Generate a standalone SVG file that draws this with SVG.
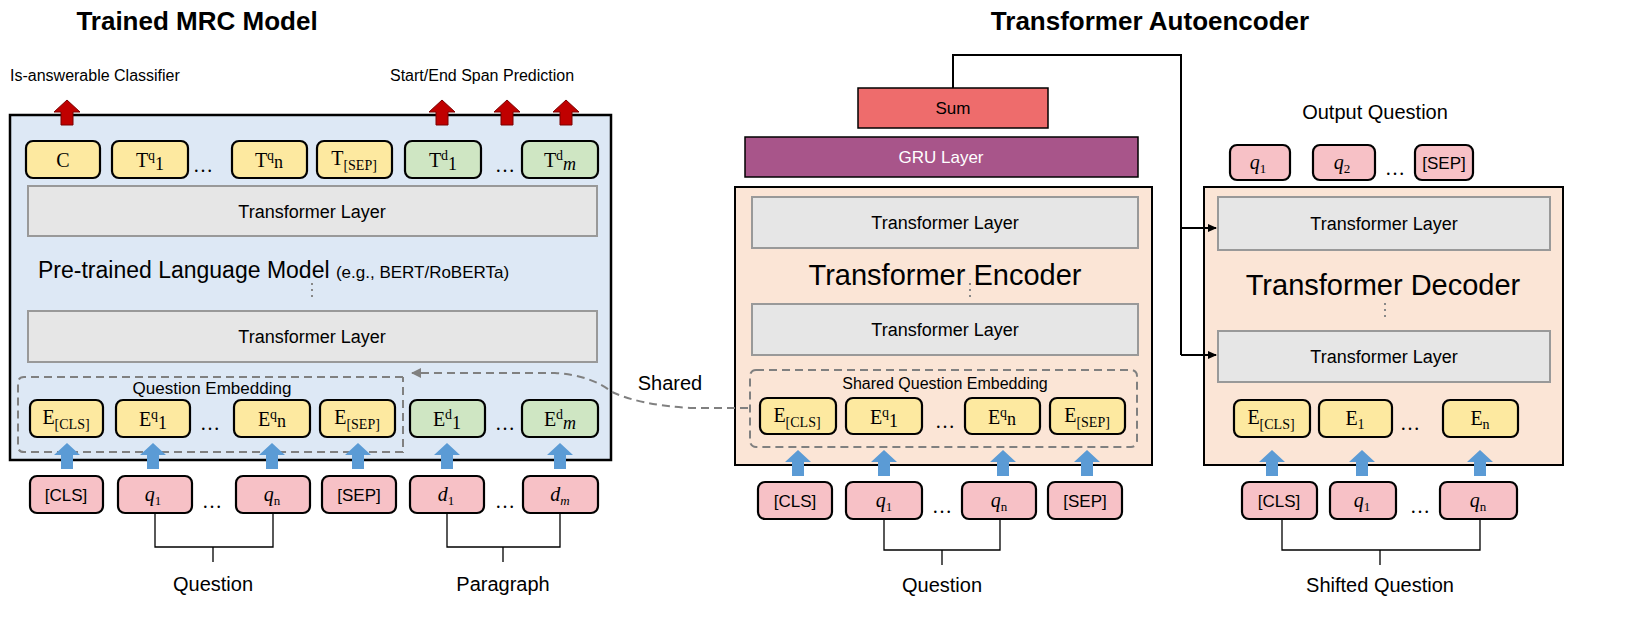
<svg xmlns="http://www.w3.org/2000/svg" width="1626" height="631" viewBox="0 0 1626 631">
<defs>
<style>
.t{font-family:"Liberation Sans",Arial,sans-serif;fill:#000}
.s{font-family:"Liberation Serif","DejaVu Serif",serif;font-size:20px;fill:#000}
.i{font-style:italic}
.y{fill:#fde9a0;stroke:#000;stroke-width:2.2}
.g{fill:#cfe6c3;stroke:#000;stroke-width:2.2}
.p{fill:#f7c1c6;stroke:#000;stroke-width:2.2}
.tl{fill:#e6e6e6;stroke:#999;stroke-width:2}
.br{fill:none;stroke:#000;stroke-width:1.3}
.ds{fill:none;stroke:#808080;stroke-width:2;stroke-dasharray:8 5}
.ba{fill:#5b9bd5}
.ra{fill:#c00000;stroke:#7a0000;stroke-width:1}
</style>
<marker id="ah" markerWidth="10" markerHeight="10" refX="8" refY="5" orient="auto" markerUnits="userSpaceOnUse"><path d="M0,1 L9,5 L0,9 z" fill="#000"/></marker>
<marker id="ag" markerWidth="12" markerHeight="12" refX="9" refY="6" orient="auto" markerUnits="userSpaceOnUse"><path d="M0,1 L10,6 L0,11 z" fill="#808080"/></marker>
<symbol id="up" viewBox="0 0 26 26" overflow="visible"><path d="M13,0 L26,12 L19,12 L19,26 L7,26 L7,12 L0,12 z"/></symbol>
</defs>

<text class="t" x="197" y="30" font-size="26" font-weight="bold" text-anchor="middle">Trained MRC Model</text>
<text class="t" x="1150" y="30" font-size="26" font-weight="bold" text-anchor="middle">Transformer Autoencoder</text>
<text class="t" x="10" y="81" font-size="16">Is-answerable Classifier</text>
<text class="t" x="390" y="81" font-size="16">Start/End Span Prediction</text>

<g id="mrc">
<rect x="10" y="115" width="601" height="345" fill="#dde8f5" stroke="#000" stroke-width="2.5"/>
<g class="ra">
<path d="M67,100 L80,112 L73,112 L73,125 L61,125 L61,112 L54,112 z"/>
<path d="M442,100 L455,112 L448,112 L448,125 L436,125 L436,112 L429,112 z"/>
<path d="M507,100 L520,112 L513,112 L513,125 L501,125 L501,112 L494,112 z"/>
<path d="M566,100 L579,112 L572,112 L572,125 L560,125 L560,112 L553,112 z"/>
</g>
<rect class="y" x="26" y="141" width="74" height="37" rx="7"/><text class="s" x="63" y="167" text-anchor="middle">C</text>
<rect class="y" x="112" y="141" width="76" height="37" rx="7"/><text class="s" x="150" y="167" text-anchor="middle">T<tspan font-size="14" dy="-7">q</tspan><tspan font-size="18" dy="10">1</tspan></text>
<text class="s" x="203" y="172" text-anchor="middle">…</text>
<rect class="y" x="232" y="141" width="75" height="37" rx="7"/><text class="s" x="269" y="167" text-anchor="middle">T<tspan font-size="14" dy="-7">q</tspan><tspan font-size="18" dy="8">n</tspan></text>
<rect class="y" x="317" y="141" width="75" height="37" rx="7"/><text class="s" x="354" y="165" text-anchor="middle">T<tspan font-size="14" dy="5">[SEP]</tspan></text>
<rect class="g" x="405" y="141" width="76" height="37" rx="7"/><text class="s" x="443" y="167" text-anchor="middle">T<tspan font-size="14" dy="-7">d</tspan><tspan font-size="18" dy="10">1</tspan></text>
<text class="s" x="505" y="172" text-anchor="middle">…</text>
<rect class="g" x="522" y="141" width="76" height="37" rx="7"/><text class="s" x="560" y="167" text-anchor="middle">T<tspan font-size="14" dy="-7">d</tspan><tspan font-size="18" dy="10" class="i">m</tspan></text>
<rect class="tl" x="28" y="186" width="569" height="50"/><text class="t" x="312" y="218" font-size="18" text-anchor="middle">Transformer Layer</text>
<text class="t" x="38" y="278" font-size="23">Pre-trained Language Model <tspan font-size="17">(e.g., BERT/RoBERTa)</tspan></text>
<line x1="312" y1="283" x2="312" y2="299" stroke="#888" stroke-width="2" stroke-dasharray="2 4"/>
<rect class="tl" x="28" y="311" width="569" height="51"/><text class="t" x="312" y="343" font-size="18" text-anchor="middle">Transformer Layer</text>
<path class="ds" d="M403,377 L24,377 Q18,377 18,383 L18,446 Q18,452 24,452 L403,452 L403,377"/>
<text class="t" x="212" y="394" font-size="17" text-anchor="middle">Question Embedding</text>
<rect class="y" x="30" y="400" width="73" height="37" rx="7"/><text class="s" x="66" y="424" text-anchor="middle">E<tspan font-size="14" dy="5">[CLS]</tspan></text>
<rect class="y" x="116" y="400" width="74" height="37" rx="7"/><text class="s" x="153" y="426" text-anchor="middle">E<tspan font-size="14" dy="-7">q</tspan><tspan font-size="18" dy="10">1</tspan></text>
<text class="s" x="210" y="430" text-anchor="middle">…</text>
<rect class="y" x="234" y="400" width="76" height="37" rx="7"/><text class="s" x="272" y="426" text-anchor="middle">E<tspan font-size="14" dy="-7">q</tspan><tspan font-size="18" dy="8">n</tspan></text>
<rect class="y" x="320" y="400" width="75" height="37" rx="7"/><text class="s" x="357" y="424" text-anchor="middle">E<tspan font-size="14" dy="5">[SEP]</tspan></text>
<rect class="g" x="410" y="400" width="75" height="37" rx="7"/><text class="s" x="447" y="426" text-anchor="middle">E<tspan font-size="14" dy="-7">d</tspan><tspan font-size="18" dy="10">1</tspan></text>
<text class="s" x="505" y="430" text-anchor="middle">…</text>
<rect class="g" x="522" y="400" width="76" height="37" rx="7"/><text class="s" x="560" y="426" text-anchor="middle">E<tspan font-size="14" dy="-7">d</tspan><tspan font-size="18" dy="10" class="i">m</tspan></text>
<g class="ba">
<use href="#up" x="54" y="443" width="26" height="26"/><use href="#up" x="140" y="443" width="26" height="26"/><use href="#up" x="259" y="443" width="26" height="26"/><use href="#up" x="345" y="443" width="26" height="26"/><use href="#up" x="434" y="443" width="26" height="26"/><use href="#up" x="547" y="443" width="26" height="26"/>
</g>
<rect class="p" x="30" y="476" width="73" height="37" rx="7"/><text class="t" x="66" y="501" font-size="17" text-anchor="middle">[CLS]</text>
<rect class="p" x="118" y="476" width="74" height="37" rx="7"/><text class="s i" x="153" y="501" text-anchor="middle">q<tspan font-size="13" dy="4" font-style="normal">1</tspan></text>
<text class="s" x="212" y="508" text-anchor="middle">…</text>
<rect class="p" x="236" y="476" width="74" height="37" rx="7"/><text class="s i" x="272" y="501" text-anchor="middle">q<tspan font-size="13" dy="4" font-style="normal">n</tspan></text>
<rect class="p" x="322" y="476" width="74" height="37" rx="7"/><text class="t" x="359" y="501" font-size="17" text-anchor="middle">[SEP]</text>
<rect class="p" x="410" y="476" width="74" height="37" rx="7"/><text class="s i" x="446" y="501" text-anchor="middle">d<tspan font-size="13" dy="4" font-style="normal">1</tspan></text>
<text class="s" x="505" y="508" text-anchor="middle">…</text>
<rect class="p" x="523" y="476" width="75" height="37" rx="7"/><text class="s i" x="560" y="501" text-anchor="middle">d<tspan font-size="13" dy="4">m</tspan></text>
<path class="br" d="M155,513 V547 H273 V513 M213,547 V562 M447,513 V547 H560 V513 M503,547 V562"/>
<text class="t" x="213" y="591" font-size="20" text-anchor="middle">Question</text>
<text class="t" x="503" y="591" font-size="20" text-anchor="middle">Paragraph</text>
</g>

<g id="encoder">
<rect x="858" y="88" width="190" height="40" fill="#ee6c6c" stroke="#000" stroke-width="1.5"/><text class="t" x="953" y="114" font-size="17" text-anchor="middle">Sum</text>
<rect x="745" y="137" width="393" height="40" fill="#a8558a" stroke="#000" stroke-width="1.5"/><text class="t" x="941" y="163" font-size="17" text-anchor="middle" style="fill:#fff">GRU Layer</text>
<rect x="735" y="187" width="417" height="278" fill="#fbe5d6" stroke="#000" stroke-width="2"/>
<rect class="tl" x="752" y="197" width="386" height="51"/><text class="t" x="945" y="229" font-size="18" text-anchor="middle">Transformer Layer</text>
<text class="t" x="945" y="285" font-size="29" text-anchor="middle">Transformer Encoder</text>
<line x1="970" y1="283" x2="970" y2="298" stroke="#888" stroke-width="2" stroke-dasharray="2 4"/>
<rect class="tl" x="752" y="304" width="386" height="51"/><text class="t" x="945" y="336" font-size="18" text-anchor="middle">Transformer Layer</text>
<rect class="ds" x="750" y="370" width="387" height="77" rx="6"/>
<text class="t" x="945" y="389" font-size="16" text-anchor="middle">Shared Question Embedding</text>
<rect class="y" x="760" y="398" width="76" height="36" rx="7"/><text class="s" x="797" y="422" text-anchor="middle">E<tspan font-size="14" dy="5">[CLS]</tspan></text>
<rect class="y" x="846" y="398" width="76" height="36" rx="7"/><text class="s" x="884" y="424" text-anchor="middle">E<tspan font-size="14" dy="-7">q</tspan><tspan font-size="18" dy="10">1</tspan></text>
<text class="s" x="945" y="428" text-anchor="middle">…</text>
<rect class="y" x="965" y="398" width="75" height="36" rx="7"/><text class="s" x="1002" y="424" text-anchor="middle">E<tspan font-size="14" dy="-7">q</tspan><tspan font-size="18" dy="8">n</tspan></text>
<rect class="y" x="1050" y="398" width="75" height="36" rx="7"/><text class="s" x="1087" y="422" text-anchor="middle">E<tspan font-size="14" dy="5">[SEP]</tspan></text>
<g class="ba">
<use href="#up" x="785" y="450" width="26" height="26"/><use href="#up" x="871" y="450" width="26" height="26"/><use href="#up" x="990" y="450" width="26" height="26"/><use href="#up" x="1074" y="450" width="26" height="26"/>
</g>
<rect class="p" x="758" y="482" width="74" height="37" rx="7"/><text class="t" x="795" y="507" font-size="17" text-anchor="middle">[CLS]</text>
<rect class="p" x="846" y="482" width="76" height="37" rx="7"/><text class="s i" x="884" y="507" text-anchor="middle">q<tspan font-size="13" dy="4" font-style="normal">1</tspan></text>
<text class="s" x="942" y="513" text-anchor="middle">…</text>
<rect class="p" x="962" y="482" width="74" height="37" rx="7"/><text class="s i" x="999" y="507" text-anchor="middle">q<tspan font-size="13" dy="4" font-style="normal">n</tspan></text>
<rect class="p" x="1048" y="482" width="74" height="37" rx="7"/><text class="t" x="1085" y="507" font-size="17" text-anchor="middle">[SEP]</text>
<path class="br" d="M884,519 V550 H1000 V519 M942,550 V565"/>
<text class="t" x="942" y="592" font-size="20" text-anchor="middle">Question</text>
</g>

<g id="decoder">
<text class="t" x="1375" y="119" font-size="20" text-anchor="middle">Output Question</text>
<rect class="p" x="1230" y="145" width="60" height="35" rx="7"/><text class="s i" x="1258" y="169" text-anchor="middle">q<tspan font-size="13" dy="4" font-style="normal">1</tspan></text>
<rect class="p" x="1313" y="145" width="62" height="35" rx="7"/><text class="s i" x="1342" y="169" text-anchor="middle">q<tspan font-size="13" dy="4" font-style="normal">2</tspan></text>
<text class="s" x="1395" y="175" text-anchor="middle">…</text>
<rect class="p" x="1415" y="145" width="58" height="35" rx="7"/><text class="t" x="1444" y="169" font-size="17" text-anchor="middle">[SEP]</text>
<rect x="1204" y="187" width="359" height="278" fill="#fbe5d6" stroke="#000" stroke-width="2"/>
<rect class="tl" x="1218" y="197" width="332" height="53"/><text class="t" x="1384" y="230" font-size="18" text-anchor="middle">Transformer Layer</text>
<text class="t" x="1383" y="295" font-size="29" text-anchor="middle">Transformer Decoder</text>
<line x1="1385" y1="303" x2="1385" y2="320" stroke="#888" stroke-width="2" stroke-dasharray="2 4"/>
<rect class="tl" x="1218" y="331" width="332" height="51"/><text class="t" x="1384" y="363" font-size="18" text-anchor="middle">Transformer Layer</text>
<rect class="y" x="1234" y="400" width="76" height="37" rx="7"/><text class="s" x="1271" y="424" text-anchor="middle">E<tspan font-size="14" dy="5">[CLS]</tspan></text>
<rect class="y" x="1319" y="400" width="73" height="37" rx="7"/><text class="s" x="1355" y="425" text-anchor="middle">E<tspan font-size="14" dy="4">1</tspan></text>
<text class="s" x="1410" y="430" text-anchor="middle">…</text>
<rect class="y" x="1443" y="400" width="75" height="37" rx="7"/><text class="s" x="1480" y="425" text-anchor="middle">E<tspan font-size="14" dy="4">n</tspan></text>
<g class="ba">
<use href="#up" x="1259" y="450" width="26" height="26"/><use href="#up" x="1349" y="450" width="26" height="26"/><use href="#up" x="1467" y="450" width="26" height="26"/>
</g>
<rect class="p" x="1242" y="482" width="75" height="37" rx="7"/><text class="t" x="1279" y="507" font-size="17" text-anchor="middle">[CLS]</text>
<rect class="p" x="1330" y="482" width="66" height="37" rx="7"/><text class="s i" x="1362" y="507" text-anchor="middle">q<tspan font-size="13" dy="4" font-style="normal">1</tspan></text>
<text class="s" x="1420" y="513" text-anchor="middle">…</text>
<rect class="p" x="1440" y="482" width="77" height="37" rx="7"/><text class="s i" x="1478" y="507" text-anchor="middle">q<tspan font-size="13" dy="4" font-style="normal">n</tspan></text>
<path class="br" d="M1282,519 V550 H1480 V519 M1380,550 V565"/>
<text class="t" x="1380" y="592" font-size="20" text-anchor="middle">Shifted Question</text>
</g>

<g id="connectors">
<path d="M953,88 V55 H1181 V355" fill="none" stroke="#000" stroke-width="2"/>
<path d="M1181,228 H1216" fill="none" stroke="#000" stroke-width="2" marker-end="url(#ah)"/>
<path d="M1181,355 H1216" fill="none" stroke="#000" stroke-width="2" marker-end="url(#ah)"/>
<path class="ds" d="M748,408 L690,408 Q640,405 612,392 Q590,375 555,373 L412,373" marker-end="url(#ag)"/>
<text class="t" x="670" y="390" font-size="20" text-anchor="middle">Shared</text>
</g>
</svg>
